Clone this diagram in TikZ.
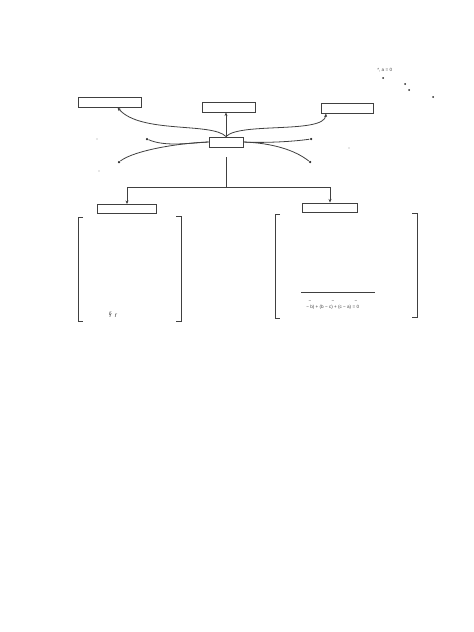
\documentclass[tikz,border=0pt]{standalone}
\usepackage{fontspec}
\setmainfont{Liberation Sans}
\usetikzlibrary{arrows.meta}
\begin{document}
\begin{tikzpicture}[x=1pt,y=-1pt,
  line width=0.8pt,
  ln/.style={draw=black!75},
  box/.style={draw=black!75,line width=0.9pt,inner sep=0pt,fill=white},
  dot/.style={circle,fill=black!85,draw=none,inner sep=0pt,minimum size=2.5pt},
  faint/.style={circle,fill=black!40,draw=none,inner sep=0pt,minimum size=1.4pt},
  tiny/.style={font=\fontsize{4.6}{5}\selectfont,inner sep=0pt,text=black!75},
  >={Stealth[length=3.6pt,width=3pt]}]
\useasboundingbox (0,0) rectangle (474,632);
% boxes
\node[box,minimum width=63pt,minimum height=10pt] (L1) at (109.5,102) {};
\node[box,minimum width=53pt,minimum height=10pt] (T1) at (228.5,107) {};
\node[box,minimum width=52pt,minimum height=10pt] (R1) at (347,108) {};
\node[box,minimum width=34pt,minimum height=10pt] (C) at (226,142) {};
\node[box,minimum width=59pt,minimum height=9pt] (LL) at (127,209) {};
\node[box,minimum width=55pt,minimum height=9pt] (RL) at (330,207.5) {};
% dots
\node[dot] (d1) at (147,139) {};
\node[dot] (d2) at (119,162) {};
\node[dot] (d3) at (311,139) {};
\node[dot] (d4) at (310,162) {};
\node[faint] (f1) at (97,139) {};
\node[faint] (f2) at (99,171) {};
\node[faint] (f3) at (349,148) {};
\node[dot,minimum size=2pt] (e1) at (383,78) {};
\node[dot,minimum size=2pt] (e2) at (405,84) {};
\node[dot,minimum size=2pt] (e3) at (409,90) {};
\node[dot,minimum size=2pt] (e4) at (433,97) {};
\node[tiny,anchor=west] (eq1) at (377,70) {*, a = 0};
% connectors from C
\draw[ln,->] (C.north) -- (C.north |- T1.south);
\draw[ln,->] (C.north) .. controls (212,122) and (140,134) .. ([xshift=8pt]L1.south);
\draw[ln,->] (C.north) .. controls (240,122) and (324,134) .. ([xshift=-21pt]R1.south);
\draw[ln] (C.west) .. controls (190,143) and (165,147) .. (d1);
\draw[ln] (C.west) .. controls (180,143) and (135,150) .. (d2);
\draw[ln] (C.east) .. controls (262,143) and (290,142) .. (d3);
\draw[ln] (C.east) .. controls (272,143) and (295,150) .. (d4);
% tree below
\coordinate (v1) at (226,157);
\coordinate (j) at (226,187.5);
\draw[ln] (v1) -- (j);
\draw[ln,->] (j) -| (LL.north);
\draw[ln,->] (j) -| (RL.north);
% brackets left panel
\draw[ln] (83,217) -- (78,217) -- (78,321) -- (83,321);
\draw[ln] (176,216) -- (181,216) -- (181,321) -- (176,321);
% brackets right panel
\draw[ln] (280,214) -- (275,214) -- (275,318) -- (280,318);
\draw[ln] (412,213) -- (417,213) -- (417,317) -- (412,317);
% right panel content
\coordinate (h1) at (301,292.5);
\coordinate (h2) at (375,292.5);
\draw[ln] (h1) -- (h2);
\node[tiny,anchor=west] (eq2) at (306,307.5) {− b) + (b − c) + (c − a)  = 0};
\node[tiny] (m1) at (310,301.5) {−};
\node[tiny] (m2) at (333,301.5) {−};
\node[tiny] (m3) at (356,301.5) {−};
% left panel content
\node[tiny,font=\fontsize{6.5}{6.5}\selectfont\itshape] (rr) at (113,314.5) {\raisebox{2.5pt}{r}\hspace{-1.5pt}r\hspace{3pt}r};
\end{tikzpicture}
\end{document}
